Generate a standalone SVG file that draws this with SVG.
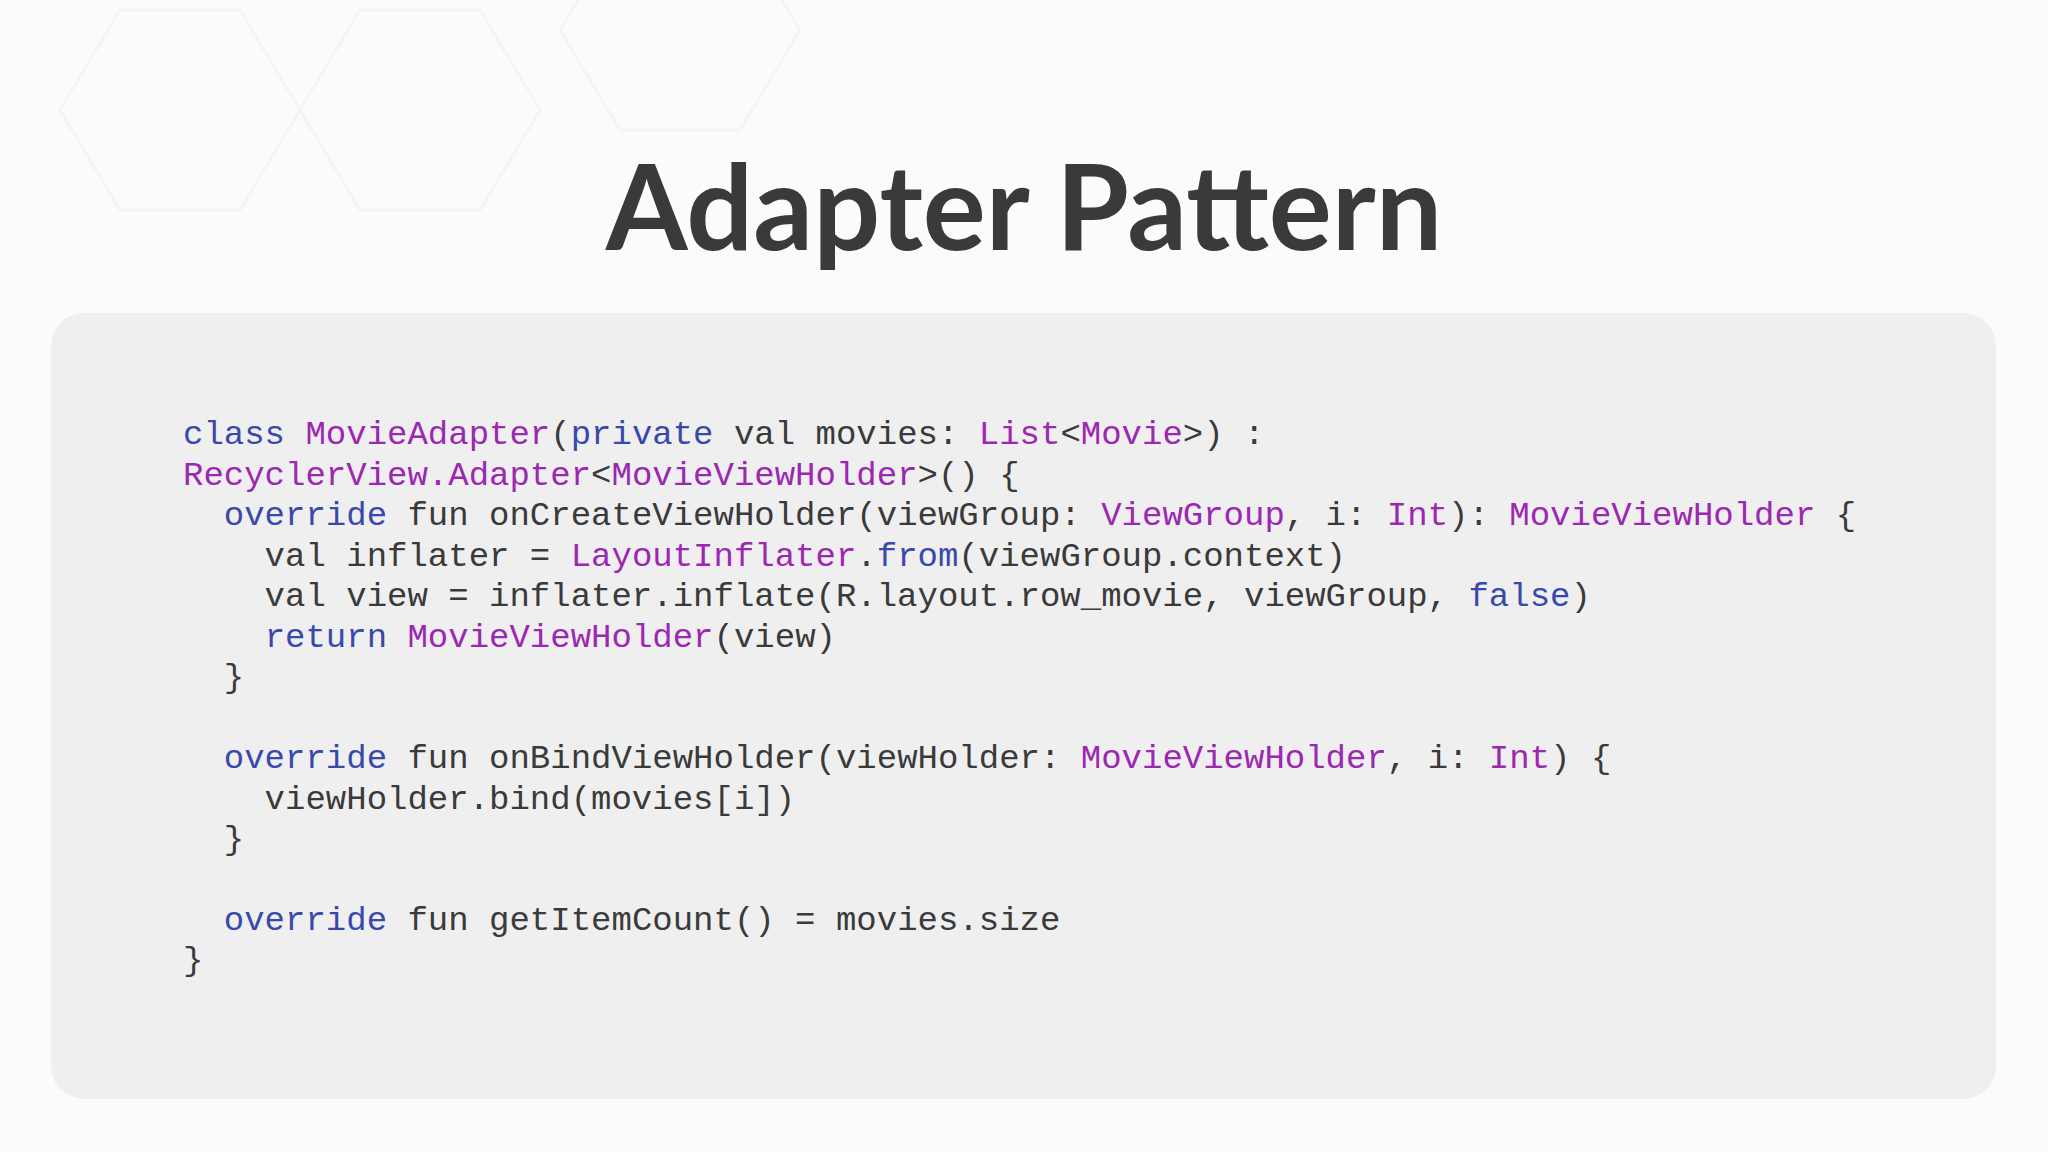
<svg xmlns="http://www.w3.org/2000/svg" width="2048" height="1152" viewBox="0 0 2048 1152">
<style>
.code{font-family:"Liberation Mono","DejaVu Sans Mono",monospace;font-size:34px;fill:#3a3a3a;white-space:pre}
.k{fill:#3949ab}
.t{fill:#9c27b0}
</style>
<rect width="2048" height="1152" fill="#fbfbfb"/>
<g fill="none" stroke="#f4f4f4" stroke-width="3">
<path d="M60 110 L120 10 L240 10 L300 110 L240 210 L120 210 Z"/>
<path d="M300 110 L360 10 L480 10 L540 110 L480 210 L360 210 Z"/>
<path d="M560 30 L620 -70 L740 -70 L800 30 L740 130 L620 130 Z"/>
</g>
<g id="title"><text x="1024" y="250" text-anchor="middle" font-family="Lato,'Liberation Sans',sans-serif" font-weight="bold" font-size="118" fill="#3a3a3a">Adapter Pattern</text></g>
<g id="panel">
<rect x="51" y="313" width="1945" height="786" rx="33" fill="#efeff0"/>
<text class="code" xml:space="preserve">
<tspan x="183" y="444"><tspan class="k">class</tspan> <tspan class="t">MovieAdapter</tspan>(<tspan class="k">private</tspan> val movies: <tspan class="t">List</tspan>&lt;<tspan class="t">Movie</tspan>&gt;) :</tspan>
<tspan x="183" y="484.5"><tspan class="t">RecyclerView.Adapter</tspan>&lt;<tspan class="t">MovieViewHolder</tspan>&gt;() {</tspan>
<tspan x="183" y="525">  <tspan class="k">override</tspan> fun onCreateViewHolder(viewGroup: <tspan class="t">ViewGroup</tspan>, i: <tspan class="t">Int</tspan>): <tspan class="t">MovieViewHolder</tspan> {</tspan>
<tspan x="183" y="565.5">    val inflater = <tspan class="t">LayoutInflater</tspan>.<tspan class="k">from</tspan>(viewGroup.context)</tspan>
<tspan x="183" y="606">    val view = inflater.inflate(R.layout.row_movie, viewGroup, <tspan class="k">false</tspan>)</tspan>
<tspan x="183" y="646.5">    <tspan class="k">return</tspan> <tspan class="t">MovieViewHolder</tspan>(view)</tspan>
<tspan x="183" y="687">  }</tspan>
<tspan x="183" y="768">  <tspan class="k">override</tspan> fun onBindViewHolder(viewHolder: <tspan class="t">MovieViewHolder</tspan>, i: <tspan class="t">Int</tspan>) {</tspan>
<tspan x="183" y="808.5">    viewHolder.bind(movies[i])</tspan>
<tspan x="183" y="849">  }</tspan>
<tspan x="183" y="930">  <tspan class="k">override</tspan> fun getItemCount() = movies.size</tspan>
<tspan x="183" y="970">}</tspan>
</text>
</g>
</svg>
